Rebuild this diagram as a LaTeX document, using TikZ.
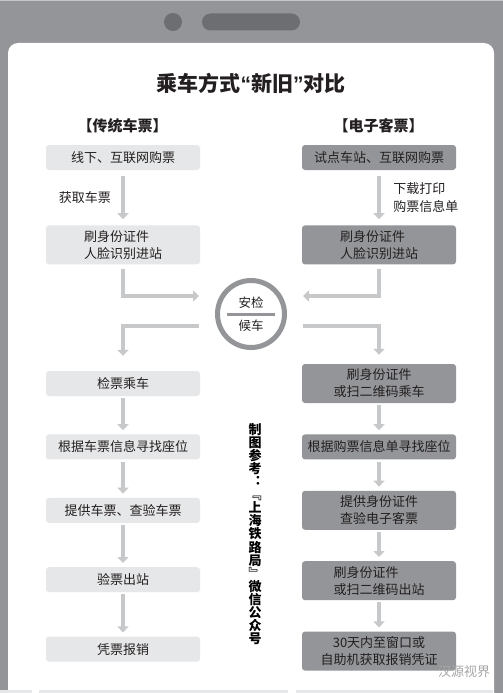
\documentclass[tikz,border=0pt]{standalone}
\usepackage{fontspec}
\setmainfont{Noto Sans CJK SC}
\newfontfamily\quotefont{Liberation Sans}
\usepackage{tikz}
\usetikzlibrary{positioning, arrows.meta}

\definecolor{framegray}{HTML}{939598}
\definecolor{pillgray}{HTML}{6D6E71}
\definecolor{lightbox}{HTML}{E6E7E8}
\definecolor{arrowgray}{HTML}{C7C8CA}
\definecolor{inkcolor}{HTML}{231F20}

\begin{document}
\begin{tikzpicture}[x=1pt, y=-1pt,
            oldstep/.style={fill=lightbox, rounded corners=3pt, minimum width=154pt, minimum height=25pt, inner sep=2pt, text=inkcolor, font=\fontsize{13}{17}\selectfont},
            newstep/.style={oldstep, fill=framegray},
            tall/.style={minimum height=39pt},
            flow/.style={draw=arrowgray, line width=4.5pt, -{Triangle[width=11pt,length=6pt]}, shorten <=2pt, shorten >=4pt},
            flowlabel/.style={inner sep=0pt, text=inkcolor, font=\fontsize{13}{18}\selectfont},
            colhead/.style={text=inkcolor, font=\bfseries\fontsize{15}{15}\selectfont},
            credit/.style={inner sep=0pt, align=center, text=black, font=\bfseries\fontsize{13}{13.1}\selectfont}
        ]

        \useasboundingbox (0,0) rectangle (503,693);

        % Rahmen
        \fill[framegray] (0,0) rectangle (503,693);
        \fill[gray!45] (0,0) rectangle (503,1.2);
        \fill[pillgray] (173,22) circle (9);
        \fill[pillgray, rounded corners=8.5pt] (202,13.5) rectangle (300,30.5);
        \fill[white, rounded corners=10pt] (8,43) rectangle (494,720);
        \fill[lightbox] (0,690) rectangle (32,700);
        \fill[lightbox] (39,690) rectangle (288,700);
        \fill[lightbox] (296,690) rectangle (493,700);

        % Titel
        \node[text=inkcolor, font=\bfseries\fontsize{21}{21}\selectfont] (title) at (251,83) {乘车方式{\quotefont“}新旧{\quotefont”}对比};
        \node[colhead] (headL) at (122.5,126) {【传统车票】};
        \node[colhead] (headR) at (378.5,126) {【电子客票】};

        % Knoten links
        \node[oldstep] (l1) at (123,157.5) {线下、互联网购票};
        \node[oldstep, tall, align=left, below=55pt of l1] (l2) {刷身份证件\\人脸识别进站};
        \node[oldstep] (l3) at (123,383.5) {检票乘车};
        \node[oldstep, below=38pt of l3] (l4) {根据车票信息寻找座位};
        \node[oldstep, below=38pt of l4] (l5) {提供车票、查验车票};
        \node[oldstep, below=44pt of l5] (l6) {验票出站};
        \node[oldstep, below=44pt of l6] (l7) {凭票报销};

        % Knoten rechts
        \node[newstep] (r1) at (379,157.5) {试点车站、互联网购票};
        \node[newstep, tall, align=left, below=55pt of r1] (r2) {刷身份证件\\人脸识别进站};
        \node[newstep, tall, align=center] (r3) at (379,383.5) {刷身份证件\\或扫二维码乘车};
        \node[newstep, below=31pt of r3] (r4) {根据购票信息单寻找座位};
        \node[newstep, tall, align=center, below=31pt of r4] (r5) {提供身份证件\\查验电子客票};
        \node[newstep, tall, align=left, below=31pt of r5] (r6) {刷身份证件\\或扫二维码出站};
        \node[newstep, tall, align=center, below=31pt of r6] (r7) {30天内至窗口或\\自助机获取报销凭证};

        % Mitte
        \node[circle, draw=framegray, line width=5pt, minimum size=67pt, inner sep=0pt] (hub) at (251,314) {};
        \draw[framegray, line width=3pt] ([xshift=-24pt]hub.center) -- ([xshift=24pt]hub.center);
        \node[text=inkcolor, font=\fontsize{12.5}{12.5}\selectfont] (hubtop) at (251,302.5) {安检};
        \node[text=inkcolor, font=\fontsize{12.5}{12.5}\selectfont] (hubbot) at (251,326) {候车};
        \coordinate (inL) at (199,296);
        \coordinate (inR) at (303,296);
        \coordinate (outL) at (199,326);
        \coordinate (outR) at (303,326);

        % Kanten
        \draw[flow, shorten <=6pt, shorten >=6pt] (l1) -- (l2) node[flowlabel, midway, left=10pt] (getL) {获取车票};
        \draw[flow, shorten <=6pt, shorten >=6pt] (r1) -- (r2) node[flowlabel, midway, right=12pt, align=left] (getR) {下载打印\\购票信息单};
        \draw[flow, shorten <=4pt, shorten >=0pt] (l2.south) |- (inL);
        \draw[flow, shorten <=4pt, shorten >=0pt] (r2.south) |- (inR);
        \draw[flow, shorten <=0pt, shorten >=15pt] (outL) -| (l3.north);
        \draw[flow, shorten <=0pt, shorten >=9pt] (outR) -| (r3.north);
        \foreach \a/\b in {l3/l4, l4/l5, l5/l6, l6/l7, r3/r4, r4/r5, r5/r6, r6/r7}
            \draw[flow] (\a) -- (\b);

        % Quelle
        \node[credit] (source) at (255,534) {制\\图\\参\\考\\︓\\﹃\\上\\海\\铁\\路\\局\\﹄\\微\\信\\公\\众\\号};
        \node[text=gray!70, font=\fontsize{13}{13}\selectfont] (mark) at (464,672) {汉源视界};

    \end{tikzpicture}
\end{document}
